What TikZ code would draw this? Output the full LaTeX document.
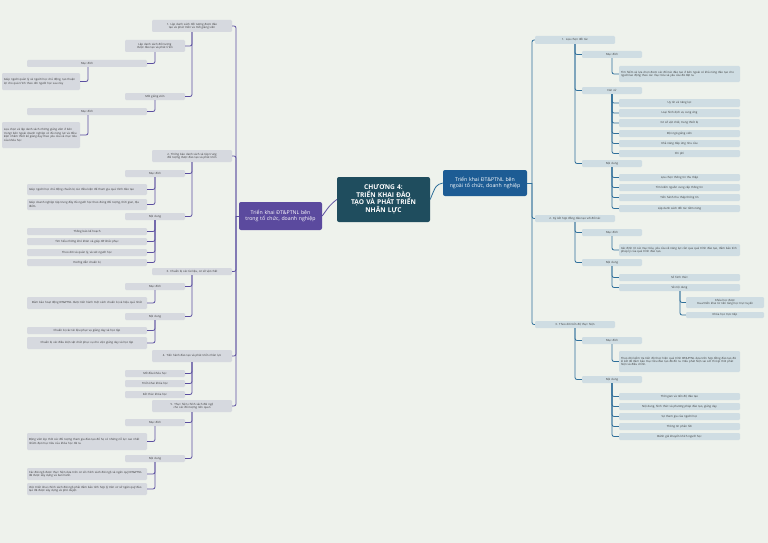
\documentclass[tikz,border=0pt]{standalone}
\usepackage{fontspec}
\setmainfont{Open Sans}
\definecolor{bg}{HTML}{EEF2EC}
\definecolor{lbox}{HTML}{D6D9DF}
\definecolor{lline}{HTML}{5B4FA0}
\definecolor{rbox}{HTML}{CFDDE3}
\definecolor{rline}{HTML}{2F6F9A}
\definecolor{cbox}{HTML}{1F4D5E}
\definecolor{lroot}{HTML}{5B4A9E}
\definecolor{rroot}{HTML}{1D5C94}
\tikzset{
 lb/.style={fill=lbox,rounded corners=1.2pt,inner sep=0pt,align=center,font=\fontsize{2.8}{3.4}\selectfont,text=black!80},
 lbl/.style={lb,align=left},
 rb/.style={fill=rbox,rounded corners=1.2pt,inner sep=0pt,align=center,font=\fontsize{2.8}{3.4}\selectfont,text=black!80},
 rbl/.style={rb,align=left},
 lc/.style={draw=lline,line width=0.8pt,rounded corners=2pt},
 rc/.style={draw=rline,line width=0.8pt,rounded corners=2pt},
}
\newcommand\bx[7]{%
 \pgfmathsetmacro\bw{#4-#2}\pgfmathsetmacro\bh{#5-#3}\pgfmathsetmacro\tw{#4-#2-4}%
 \pgfmathsetmacro\cx{(#2+#4)/2}\pgfmathsetmacro\cy{-(#3+#5)/2}%
 \node[#6,minimum width=\bw pt,minimum height=\bh pt,text width=\tw pt] (#1) at (\cx pt,\cy pt) {#7};}
\newcommand\lk[3]{\draw[lc] (#2pt,0 |- #1.south) |- (#3.east);}
\newcommand\rk[3]{\draw[rc] (#2pt,0 |- #1.south) |- (#3.west);}
\begin{document}
\begin{tikzpicture}
\fill[bg] (0,0) rectangle (768pt,-543pt);
\useasboundingbox (0,0) rectangle (768pt,-543pt);
% centre and roots
\bx{C}{337}{177}{430}{222}{fill=cbox,rounded corners=2pt,inner sep=0pt,align=center,text=white,font=\fontsize{6.6}{7.4}\selectfont\bfseries}{CHƯƠNG 4:\\TRIỂN KHAI ĐÀO\\TẠO VÀ PHÁT TRIỂN\\NHÂN LỰC}
\bx{LR}{239}{202}{322}{230}{fill=lroot,rounded corners=2pt,inner sep=0pt,align=center,text=white,font=\fontsize{5.2}{6}\selectfont}{Triển khai ĐT\&PTNL bên trong tổ chức, doanh nghiệp}
\bx{RR}{443}{170}{527}{196}{fill=rroot,rounded corners=2pt,inner sep=0pt,align=center,text=white,font=\fontsize{5.2}{6}\selectfont}{Triển khai ĐT\&PTNL bên ngoài tổ chức, doanh nghiệp}
\draw[lline,line width=0.8pt] (C.west) .. controls (330pt,-205pt) .. (LR.east);
\draw[rline,line width=0.8pt] (C.east) .. controls (436pt,-185pt) .. (RR.west);
% ---------- LEFT ----------
\bx{A1}{152}{20}{232}{32}{lb}{1. Lập danh sách đối tượng được đào tạo và phát triển và mời giảng viên}
\bx{A2}{152}{150}{232}{162}{lb}{2. Thông báo danh sách và tập trung đối tượng được đào tạo và phát triển}
\bx{A3}{152}{268}{232}{275}{lb}{3. Chuẩn bị các tài liệu, cơ sở vật chất}
\bx{A4}{152}{350}{232}{362}{lb}{4. Tiến hành đào tạo và phát triển nhân lực}
\bx{A5}{152}{400}{232}{412}{lb}{5. Thực hiện chính sách đãi ngộ cho các đối tượng liên quan}
\foreach \n in {A1,A2,A3,A4,A5}{\draw[lc] (LR.west) -- (236pt,0 |- LR.west); \draw[lc] (236pt,0 |- LR.west) |- (\n.east);}
% A1
\bx{A11}{125}{40}{185}{52}{lb}{Lập danh sách đối tượng được đào tạo và phát triển}
\bx{A12}{125}{93}{185}{100}{lb}{Mời giảng viên}
\lk{A1}{192}{A11}\lk{A1}{192}{A12}
\bx{A111}{27}{60}{147}{67}{lb}{Mục đích}
\lk{A11}{155}{A111}
\bx{A1111}{2}{73}{80}{90}{lbl}{Giúp người quản lý và người học chủ động, tạo thuận lợi cho quá trình theo dõi người học sau này}
\lk{A111}{88}{A1111}
\bx{A121}{27}{108}{147}{115}{lb}{Mục đích}
\lk{A12}{155}{A121}
\bx{A1211}{2}{122}{80}{148}{lbl}{Lựa chọn và lập danh sách những giảng viên ở bên trong/ bên ngoài doanh nghiệp có đủ năng lực và điều kiện nhằm thiết kế giảng dạy theo yêu cầu và mục tiêu của khóa học}
\lk{A121}{88}{A1211}
% A2
\bx{A21}{125}{170}{185}{177}{lb}{Mục đích}
\bx{A22}{125}{213}{185}{220}{lb}{Nội dung}
\lk{A2}{192}{A21}\lk{A2}{192}{A22}
\bx{A211}{27}{184}{147}{195}{lbl}{Giúp người học chủ động chuẩn bị các điều kiện để tham gia quá trình đào tạo}
\bx{A212}{27}{199}{147}{210}{lbl}{Giúp doanh nghiệp tập trung đầy đủ người học theo đúng đối tượng, thời gian, địa điểm.}
\lk{A21}{155}{A211}\lk{A21}{155}{A212}
\bx{A221}{27}{228}{147}{235}{lb}{Thông báo kế hoạch}
\bx{A222}{27}{238}{147}{245}{lb}{Tìm hiểu những khó khăn và giúp đỡ khắc phục}
\bx{A223}{27}{249}{147}{256}{lb}{Theo dõi và quản lý, và xét người học}
\bx{A224}{27}{259}{147}{266}{lb}{Hướng dẫn chuẩn bị}
\foreach \n in {A221,A222,A223,A224}{\lk{A22}{155}{\n}}
% A3
\bx{A31}{125}{283}{185}{290}{lb}{Mục đích}
\bx{A32}{125}{313}{185}{320}{lb}{Nội dung}
\lk{A3}{192}{A31}\lk{A3}{192}{A32}
\bx{A311}{27}{297}{147}{309}{lb}{Đảm bảo hoạt động ĐT\&PTNL được tiến hành một cách chuẩn bị và hiệu quả nhất}
\lk{A31}{155}{A311}
\bx{A321}{27}{327}{147}{334}{lb}{Chuẩn bị các tài liệu phục vụ giảng dạy và học tập}
\bx{A322}{27}{337}{147}{349}{lb}{Chuẩn bị các điều kiện vật chất phục vụ cho việc giảng dạy và học tập}
\lk{A32}{155}{A321}\lk{A32}{155}{A322}
% A4
\bx{A41}{125}{370}{185}{377}{lb}{Mở đầu khóa học}
\bx{A42}{125}{380}{185}{387}{lb}{Triển khai khóa học}
\bx{A43}{125}{391}{185}{398}{lb}{Kết thúc khóa học}
\foreach \n in {A41,A42,A43}{\lk{A4}{192}{\n}}
% A5
\bx{A51}{125}{419}{185}{426}{lb}{Mục đích}
\bx{A52}{125}{455}{185}{462}{lb}{Nội dung}
\lk{A5}{192}{A51}\lk{A5}{192}{A52}
\bx{A511}{27}{433}{147}{450}{lbl}{Động viên kịp thời các đối tượng tham gia đào tạo để họ có những nỗ lực cao nhất nhằm đạt mục tiêu của khóa học đã ra.}
\lk{A51}{155}{A511}
\bx{A521}{27}{468}{147}{480}{lbl}{Các đãi ngộ được thực hiện dựa trên cơ sở chính sách đãi ngộ và ngân quỹ ĐT\&PTNL đã được xây dựng và ban hành.}
\bx{A522}{27}{483}{147}{495}{lbl}{Việc triển khai chính sách đãi ngộ phải đảm bảo tính hợp lý trên cơ sở ngân quỹ đào tạo đã được xây dựng và phê duyệt.}
\lk{A52}{155}{A521}\lk{A52}{155}{A522}
% ---------- RIGHT ----------
\bx{B1}{535}{36}{615}{44}{rb}{1. Lựa chọn đối tác}
\bx{B2}{535}{215}{615}{222}{rb}{2. Ký kết hợp đồng đào tạo với đối tác}
\bx{B3}{535}{321}{615}{328}{rb}{3. Theo dõi tiến độ thực hiện}
\foreach \n in {B1,B2,B3}{\draw[rc] (RR.east) -- (532pt,0 |- RR.east); \draw[rc] (532pt,0 |- RR.east) |- (\n.west);}
% B1
\bx{B11}{582}{51}{642}{58}{rb}{Mục đích}
\bx{B12}{582}{87}{642}{94}{rb}{Căn cứ}
\bx{B13}{582}{160}{642}{167}{rb}{Nội dung}
\foreach \n in {B11,B12,B13}{\rk{B1}{575}{\n}}
\bx{B111}{619}{66}{740}{82}{rbl}{Tìm hiểm và lựa chọn được các đối tác đào tạo ở bên ngoài có khả năng đào tạo cho người lao động theo các mục tiêu và yêu cầu đã đặt ra.}
\rk{B11}{612}{B111}
\bx{B121}{619}{99}{740}{107}{rb}{Uy tín và năng lực}
\bx{B122}{619}{109}{740}{117}{rb}{Loại hình dịch vụ cung ứng}
\bx{B123}{619}{119}{740}{127}{rb}{Cơ sở vật chất, trang thiết bị}
\bx{B124}{619}{130}{740}{137}{rb}{Đội ngũ giảng viên}
\bx{B125}{619}{140}{740}{147}{rb}{Khả năng đáp ứng nhu cầu}
\bx{B126}{619}{150}{740}{157}{rb}{Chi phí}
\foreach \n in {B121,B122,B123,B124,B125,B126}{\rk{B12}{612}{\n}}
\bx{B131}{619}{174}{740}{181}{rb}{Lựa chọn thông tin thu thập}
\bx{B132}{619}{184}{740}{191}{rb}{Tìm kiếm nguồn cung cấp thông tin}
\bx{B133}{619}{194}{740}{201}{rb}{Tiến hành thu thập thông tin}
\bx{B134}{619}{205}{740}{212}{rb}{Lập danh sách đối tác tiềm năng}
\foreach \n in {B131,B132,B133,B134}{\rk{B13}{612}{\n}}
% B2
\bx{B21}{582}{229}{642}{236}{rb}{Mục đích}
\bx{B22}{582}{259}{642}{266}{rb}{Nội dung}
\rk{B2}{575}{B21}\rk{B2}{575}{B22}
\bx{B211}{619}{244}{740}{256}{rbl}{Xác định rõ các mục tiêu, yêu cầu về năng lực cần qua quá trình đào tạo, đảm bảo tính pháp lý của quá trình đào tạo.}
\rk{B21}{612}{B211}
\bx{B221}{619}{274}{740}{281}{rb}{Số hình thức}
\bx{B222}{619}{284}{740}{291}{rb}{Về nội dung}
\rk{B22}{612}{B221}\rk{B22}{612}{B222}
\bx{B2221}{686}{297}{764}{308}{rb}{Khóa học được\\mua/triển khai từ nền tảng học trực tuyến}
\bx{B2222}{686}{312}{764}{318}{rb}{Khóa học trực tiếp}
\rk{B222}{680}{B2221}\rk{B222}{680}{B2222}
% B3
\bx{B31}{582}{337}{642}{344}{rb}{Mục đích}
\bx{B32}{582}{376}{642}{383}{rb}{Nội dung}
\rk{B3}{575}{B31}\rk{B3}{575}{B32}
\bx{B311}{619}{351}{740}{372}{rbl}{Theo dõi kiểm tra tiến độ thực hiện quá trình ĐT\&PTNL dựa trên hợp đồng đào tạo đã kí kết để đảm bảo mục tiêu đào tạo đã đề ra. Nếu phát hiện sai sót thì kịp thời phát hiện và điều chỉnh.}
\rk{B31}{612}{B311}
\bx{B321}{619}{393}{740}{400}{rb}{Thời gian và tiến độ đào tạo}
\bx{B322}{619}{403}{740}{410}{rb}{Nội dung, hình thức và phương pháp đào tạo, giảng dạy}
\bx{B323}{619}{413}{740}{420}{rb}{Sự tham gia của người học}
\bx{B324}{619}{423}{740}{430}{rb}{Thông tin phản hồi}
\bx{B325}{619}{433}{740}{440}{rb}{Đánh giá khuyến khích người học}
\foreach \n in {B321,B322,B323,B324,B325}{\rk{B32}{612}{\n}}
\end{tikzpicture}
\end{document}
